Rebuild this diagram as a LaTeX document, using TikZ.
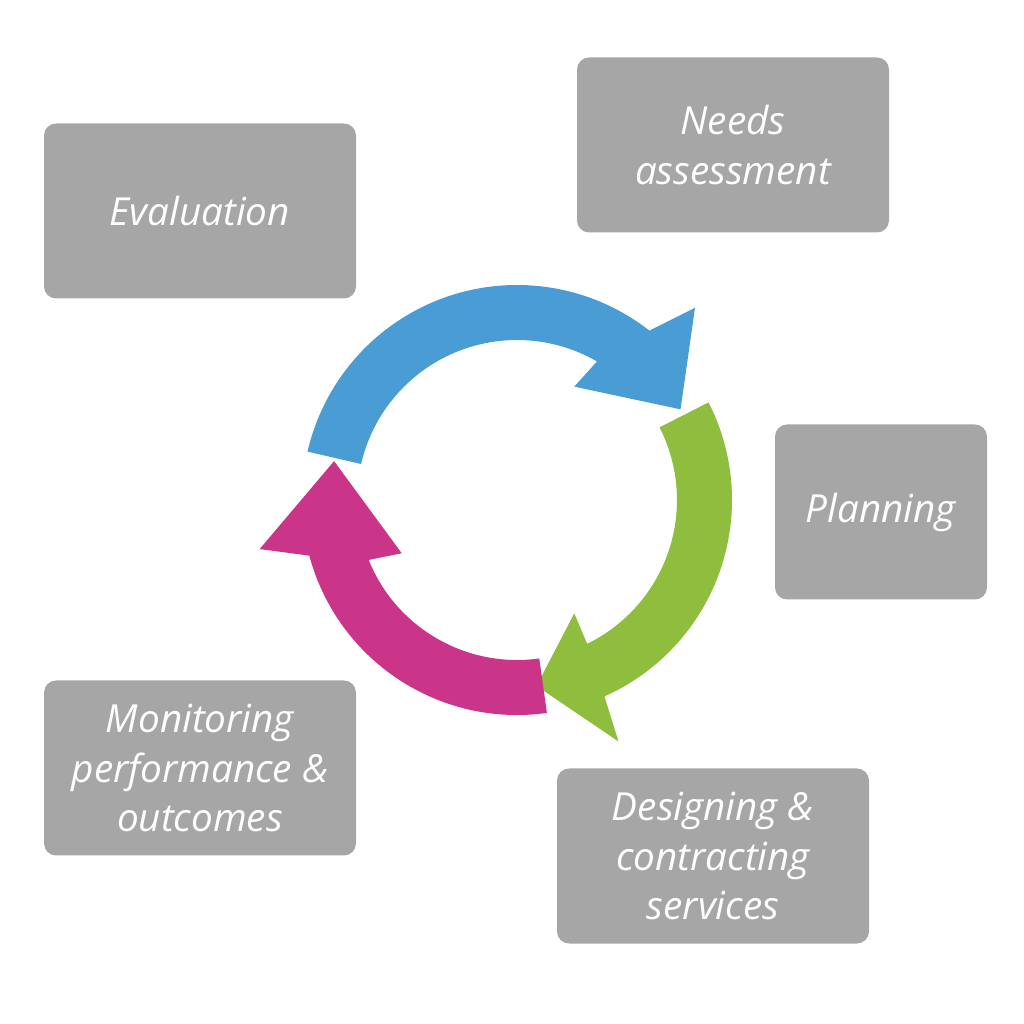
\documentclass[tikz,border=0pt]{standalone}
\usepackage{fontspec}
\setmainfont{Open Sans}
\definecolor{boxgray}{HTML}{A6A6A6}
\definecolor{cycblue}{HTML}{4A9CD4}
\definecolor{cycgreen}{HTML}{8FBE3F}
\definecolor{cycpink}{HTML}{CA3589}
\tikzset{
  stage/.style={fill=boxgray, rounded corners=1.2mm, text=white, align=center,
    font=\itshape\fontsize{11}{14.2}\selectfont, inner sep=0pt},
}
\begin{document}
\begin{tikzpicture}
\useasboundingbox (0,0) rectangle (10.24,10.24);
 \node[stage, minimum width=3.12cm, minimum height=1.75cm] (eval) at (2.00,8.13) {Evaluation};
 \node[stage, minimum width=3.12cm, minimum height=1.75cm] (needs) at (7.33,8.79) {Needs\\assessment};
 \node[stage, minimum width=2.12cm, minimum height=1.75cm] (plan) at (8.81,5.12) {Planning};
 \node[stage, minimum width=3.12cm, minimum height=1.75cm] (design) at (7.13,1.68) {Designing \&\\contracting\\services};
 \node[stage, minimum width=3.12cm, minimum height=1.75cm] (monitor) at (2.00,2.56) {Monitoring\\performance \&\\outcomes};

 % tail, base, tip angles, slant of head base
 \foreach \t/\b/\p/\s/\c in {167/52/29/16/cycblue, 27/-66/-84/4/cycgreen, -82/-165/-192/14/cycpink}
 {
  \fill[\c, shift={(5.17,5.24)}]
   (\t:2.15) arc[start angle=\t, end angle=\b, radius=2.15]
   -- (\b-0.3*\s:2.62) -- (\p:1.87) -- (\b+0.7*\s:1.27) -- (\b+0.5*\s:1.6)
   arc[start angle=\b+0.5*\s, end angle=\t, radius=1.6] -- cycle;
 }
\end{tikzpicture}
\end{document}
